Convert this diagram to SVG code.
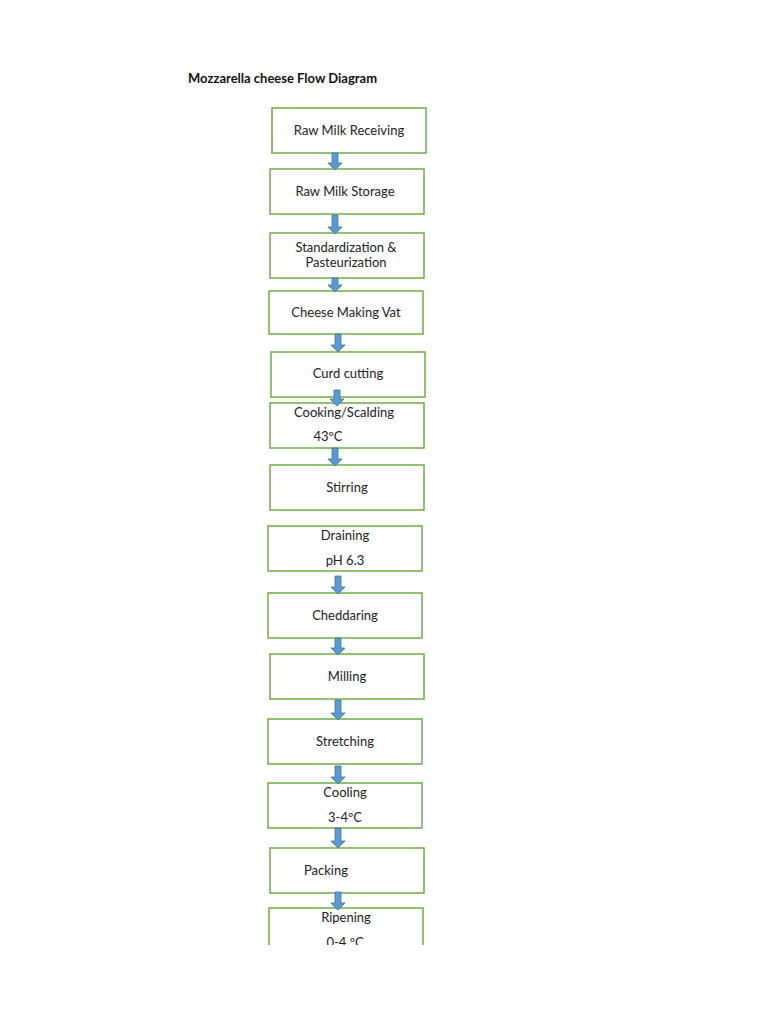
<svg xmlns="http://www.w3.org/2000/svg" width="768" height="1024" viewBox="0 0 768 1024">
<style>
.b{fill:#fff;stroke:#70AD47;stroke-width:1.5}
.t{font-family:Lato,"Liberation Sans",sans-serif;font-size:13px;fill:#222;text-anchor:middle}
.a{fill:#5B9BD5;stroke:#41719C;stroke-width:0.8}
</style>
<defs>
<clipPath id="pg"><rect x="0" y="0" width="768" height="945"/></clipPath>
<path id="ar" d="M-3,0 H3 V-5 H-3 Z"/>
</defs>
<rect width="768" height="1024" fill="#fff"/>
<text x="188" y="83" style="font-family:Lato,'Liberation Sans',sans-serif;font-size:13px;font-weight:bold;fill:#111">Mozzarella cheese Flow Diagram</text>
<g clip-path="url(#pg)">
<g id="n1"><rect class="b" x="272" y="108" width="154" height="45"/><text class="t" x="349" y="135">Raw Milk Receiving</text></g>
<g id="n2"><rect class="b" x="270" y="169" width="154" height="45"/><text class="t" x="345" y="196">Raw Milk Storage</text></g>
<g id="n3"><rect class="b" x="270" y="233" width="154" height="45"/><text class="t" x="346" y="252">Standardization &amp;</text><text class="t" x="346" y="267">Pasteurization</text></g>
<g id="n4"><rect class="b" x="269" y="291" width="154" height="43"/><text class="t" x="346" y="317">Cheese Making Vat</text></g>
<g id="n5"><rect class="b" x="271" y="352" width="154" height="45"/><text class="t" x="348" y="378">Curd cutting</text></g>
<g id="n6"><rect class="b" x="270" y="403" width="154" height="45"/><text class="t" x="344" y="417">Cooking/Scalding</text><text class="t" x="328" y="441">43ºC</text></g>
<g id="n7"><rect class="b" x="270" y="465" width="154" height="45"/><text class="t" x="347" y="492">Stirring</text></g>
<g id="n8"><rect class="b" x="268" y="526" width="154" height="45"/><text class="t" x="345" y="540">Draining</text><text class="t" x="345" y="565">pH 6.3</text></g>
<g id="n9"><rect class="b" x="268" y="593" width="154" height="45"/><text class="t" x="345" y="620">Cheddaring</text></g>
<g id="n10"><rect class="b" x="270" y="654" width="154" height="45"/><text class="t" x="347" y="681">Milling</text></g>
<g id="n11"><rect class="b" x="268" y="719" width="154" height="45"/><text class="t" x="345" y="746">Stretching</text></g>
<g id="n12"><rect class="b" x="268" y="783" width="154" height="45"/><text class="t" x="345" y="797">Cooling</text><text class="t" x="345" y="822">3-4ºC</text></g>
<g id="n13"><rect class="b" x="270" y="848" width="154" height="45"/><text class="t" x="326" y="875">Packing</text></g>
<g id="n14"><rect class="b" x="269" y="908" width="154" height="60"/><text class="t" x="346" y="922">Ripening</text><text class="t" x="345" y="947">0-4 ºC</text></g>
<g id="connectors">
<path class="a" d="M332,153 h6 v10 h4 l-7,7 l-7,-7 h4 z"/>
<path class="a" d="M332,215 h6 v12 h4 l-7,7 l-7,-7 h4 z"/>
<path class="a" d="M332,278 h6 v7 h4 l-7,7 l-7,-7 h4 z"/>
<path class="a" d="M335,334 h6 v11 h4 l-7,7 l-7,-7 h4 z"/>
<path class="a" d="M334,390 h6 v9 h4 l-7,7 l-7,-7 h4 z"/>
<path class="a" d="M332,448 h6 v11 h4 l-7,7 l-7,-7 h4 z"/>
<path class="a" d="M335,576 h6 v11 h4 l-7,7 l-7,-7 h4 z"/>
<path class="a" d="M335,638 h6 v10 h4 l-7,7 l-7,-7 h4 z"/>
<path class="a" d="M335,700 h6 v13 h4 l-7,7 l-7,-7 h4 z"/>
<path class="a" d="M335,766 h6 v11 h4 l-7,7 l-7,-7 h4 z"/>
<path class="a" d="M335,828 h6 v13 h4 l-7,7 l-7,-7 h4 z"/>
<path class="a" d="M335,892 h6 v11 h4 l-7,7 l-7,-7 h4 z"/>
</g>
</g>
</svg>
